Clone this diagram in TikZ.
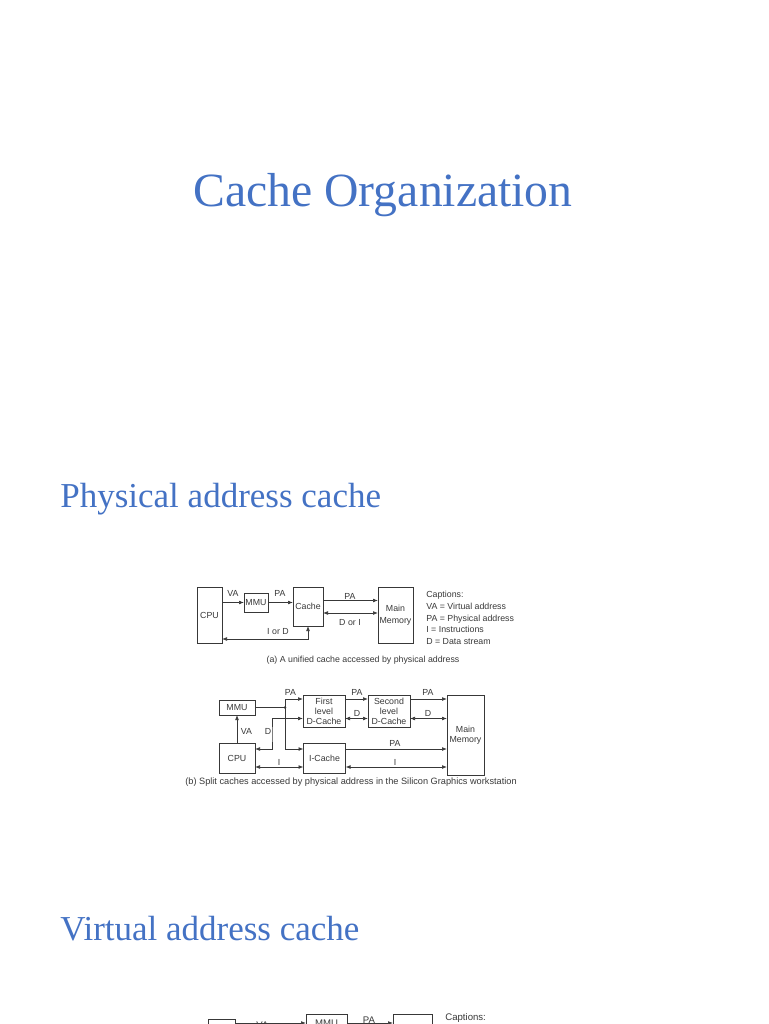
\documentclass[tikz,border=0pt]{standalone}
\usepackage{fontspec}
\setmainfont{Liberation Serif}
\setsansfont{Liberation Sans}
\usetikzlibrary{arrows.meta}
\definecolor{slideblue}{HTML}{4472C4}
\definecolor{linegray}{HTML}{383838}
\newcommand{\diafont}{\sffamily\fontsize{8.8}{10}\selectfont}

\begin{document}
\begin{tikzpicture}[x=1pt, y=-1pt, color=linegray, line width=0.7pt,
    >={Latex[length=5pt,width=3.8pt]},
    box/.style={draw, inner sep=0pt, outer sep=0pt, font=\diafont, align=center},
    lbl/.style={inner sep=0pt, font=\diafont},
    slidetitle/.style={inner sep=0pt, text=slideblue},
  ]
  \useasboundingbox (0,0) rectangle (768,1024);
  \clip (0,0) rectangle (768,1024);

  % headings
  \node[slidetitle, anchor=base, font=\fontsize{47.7}{50}\selectfont] (title) at (383,206.5) {Cache Organization};
  \node[slidetitle, anchor=base west, font=\fontsize{35}{38}\selectfont] (phys) at (60,507.3) {Physical address cache};
  \node[slidetitle, anchor=base west, font=\fontsize{35}{38}\selectfont] (virt) at (60,940) {Virtual address cache};

  % (a) unified cache
  \node[box, minimum width=25pt, minimum height=56pt] (cpuA) at (209.5,615) {CPU};
  \node[box, minimum width=24pt, minimum height=19pt] (mmuA) at (256,602.5) {MMU};
  \node[box, minimum width=30pt, minimum height=39pt] (cacheA) at (308,606.5) {Cache};
  \node[box, minimum width=35pt, minimum height=56pt] (memA) at (395.5,615) {Main\\[1.7pt]Memory};
  \draw[->] (cpuA.east |- mmuA.west) -- (mmuA.west);
  \draw[->] (mmuA.east) -- (cacheA.west |- mmuA.east);
  \draw[->] ([yshift=6pt]cacheA.east) -- ([yshift=6pt]cacheA.east -| memA.west);
  \draw[<->] ([yshift=-6.5pt]cacheA.east) -- ([yshift=-6.5pt]cacheA.east -| memA.west);
  \draw[<->] (cacheA.south) |- ([yshift=-24pt]cpuA.east);
  \node[lbl] (vaA) at (233,593) {VA};
  \node[lbl] (paA) at (280,593) {PA};
  \node[lbl] (paMemA) at (350,596.7) {PA};
  \node[lbl] (doriA) at (350,622.7) {D or I};
  \node[lbl] (iordA) at (278,631.7) {I or D};
  \node[lbl, anchor=north west, align=left, font=\sffamily\fontsize{8.8}{11.75}\selectfont] (legendA) at (426,591)
    {Captions:\\VA = Virtual address\\PA = Physical address\\I = Instructions\\D = Data stream};
  \node[lbl] (capA) at (363,660) {(a) A unified cache accessed by physical address};

  % (b) split caches
  \node[box, minimum width=36pt, minimum height=15pt] (mmuB) at (237,707.5) {MMU};
  \node[box, minimum width=36pt, minimum height=30pt] (cpuB) at (237,758) {CPU};
  \node[box, minimum width=42pt, minimum height=32pt] (dOne) at (324,711) {First\\level\\D-Cache};
  \node[box, minimum width=42pt, minimum height=32pt] (dTwo) at (389,711) {Second\\level\\D-Cache};
  \node[box, minimum width=42pt, minimum height=30pt] (icache) at (324.5,758) {I-Cache};
  \node[box, minimum width=37pt, minimum height=80pt] (memB) at (465.5,735) {Main\\Memory};
  \coordinate (jct) at (285,707.5);
  \coordinate (dbend) at (272,735);
  \draw (mmuB.east) -- (jct);
  \fill (jct) circle (1.4pt);
  \draw[->] (jct) |- ([yshift=12pt]dOne.west);
  \draw[->] (jct) |- ([yshift=9pt]icache.west);
  \draw[<->] ([yshift=-7.5pt]dOne.west) -| (dbend) |- ([yshift=9pt]cpuB.east);
  \draw[->] (cpuB.north) -- (mmuB.south);
  \draw[<->] ([yshift=-9pt]cpuB.east) -- ([yshift=-9pt]icache.west);
  \draw[->] ([yshift=12pt]dOne.east) -- ([yshift=12pt]dTwo.west);
  \draw[<->] ([yshift=-7.5pt]dOne.east) -- ([yshift=-7.5pt]dTwo.west);
  \draw[->] ([yshift=12pt]dTwo.east) -- ([yshift=12pt]dTwo.east -| memB.west);
  \draw[<->] ([yshift=-7.5pt]dTwo.east) -- ([yshift=-7.5pt]dTwo.east -| memB.west);
  \draw[->] ([yshift=9pt]icache.east) -- ([yshift=9pt]icache.east -| memB.west);
  \draw[<->] ([yshift=-9pt]icache.east) -- ([yshift=-9pt]icache.east -| memB.west);
  \node[lbl] (paJct) at (290.5,692.5) {PA};
  \node[lbl] (paOne) at (357,692.5) {PA};
  \node[lbl] (dOneLbl) at (357,713.5) {D};
  \node[lbl] (paTwo) at (428,692.5) {PA};
  \node[lbl] (dTwoLbl) at (428,713.5) {D};
  \node[lbl] (paI) at (395,743) {PA};
  \node[lbl] (iMem) at (395,762.5) {I};
  \node[lbl] (vaB) at (246.5,731.5) {VA};
  \node[lbl] (dB) at (268,731.5) {D};
  \node[lbl] (iCpu) at (279,762.5) {I};
  \node[lbl, font=\sffamily\fontsize{9.2}{11}\selectfont] (capB) at (351,782) {(b) Split caches accessed by physical address in the Silicon Graphics workstation};

  % (c) cut off by the page
  \node[box, minimum width=27pt, minimum height=40pt, anchor=north west] (cpuC) at (208,1019) {};
  \node[box, minimum width=41pt, minimum height=17pt, anchor=north west, font=\sffamily\fontsize{9.6}{11}\selectfont] (mmuC) at (306,1014.5) {MMU};
  \node[box, minimum width=39pt, minimum height=30pt, anchor=north west] (cacheC) at (393,1014.5) {};
  \draw[->] (cpuC.east |- 0,1023) -- (mmuC.west |- 0,1023);
  \draw[->] (mmuC.east |- 0,1023) -- (cacheC.west |- 0,1023);
  \node[lbl, anchor=north, font=\sffamily\fontsize{9.6}{11}\selectfont] (vaC) at (262.5,1021.3) {VA};
  \node[lbl, anchor=north, font=\sffamily\fontsize{9.6}{11}\selectfont] (paC) at (369,1016.7) {PA};
  \node[lbl, anchor=north west, font=\sffamily\fontsize{9.6}{11}\selectfont] (legendC) at (445,1013.3) {Captions:};
\end{tikzpicture}
\end{document}
